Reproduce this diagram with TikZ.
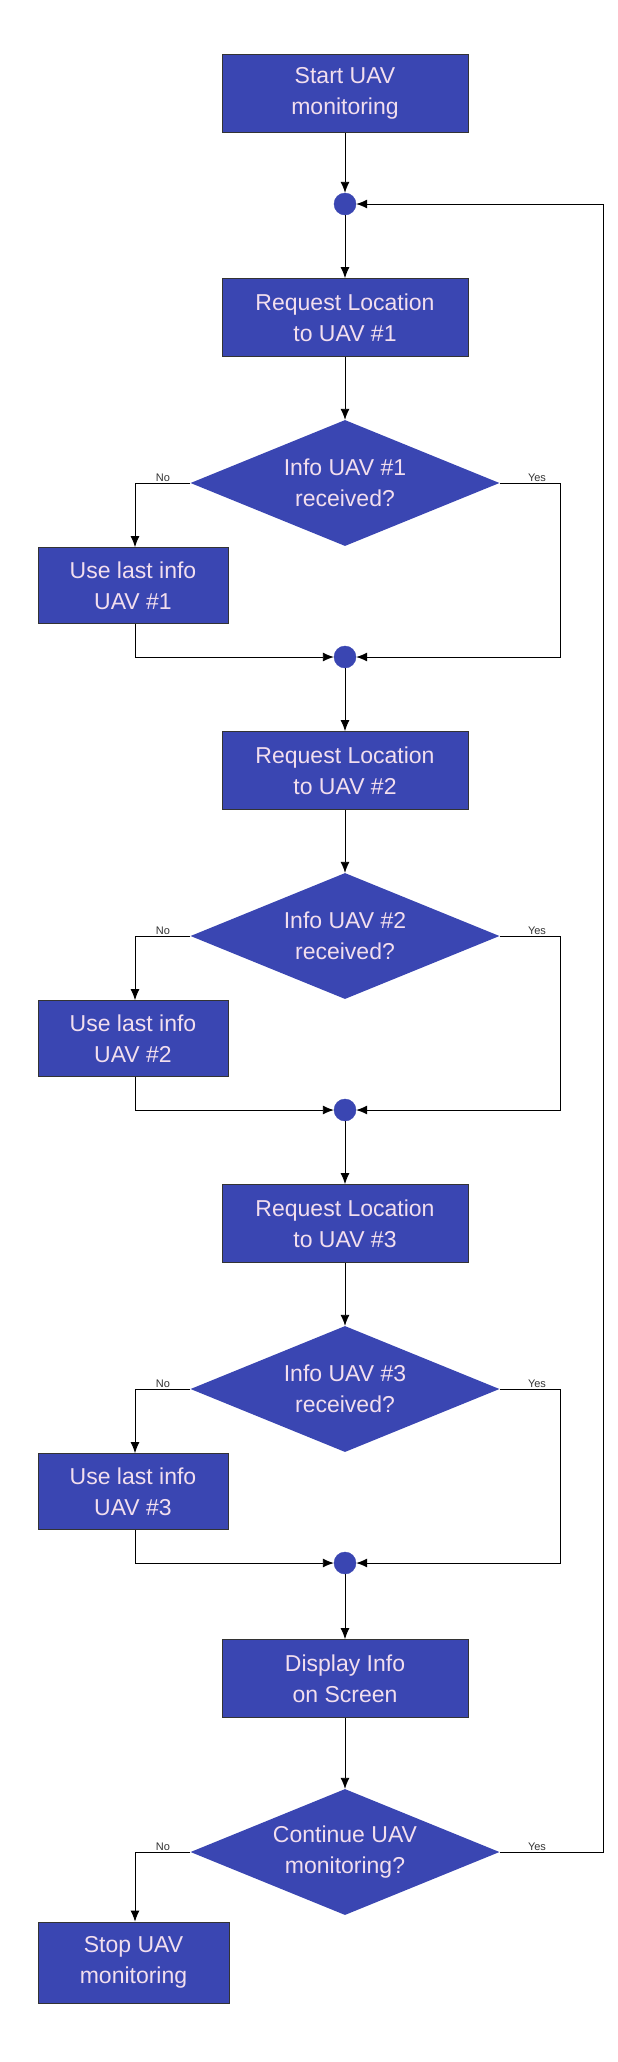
\documentclass[tikz,border=0pt]{standalone}
\usepackage{fontspec}
\setmainfont{Liberation Sans}
\usetikzlibrary{shapes.geometric,arrows.meta}
\definecolor{boxblue}{RGB}{58,70,178}
\definecolor{boxtext}{RGB}{242,222,238}
\begin{document}
\begin{tikzpicture}[x=1pt,y=1pt,
  box/.style={draw=black!80,fill=boxblue,text=boxtext,align=center,font=\fontsize{23}{31}\selectfont,minimum width=246pt,minimum height=78pt,inner sep=0pt,line width=0.8pt},
  sbox/.style={box,minimum width=190pt,minimum height=76pt},
  dec/.style={diamond,fill=boxblue,text=boxtext,align=center,font=\fontsize{23}{31}\selectfont,minimum width=309pt,minimum height=126pt,inner sep=0pt,aspect=2.45},
  dot/.style={circle,fill=boxblue,draw=boxblue,minimum size=22pt,inner sep=0pt},
  arr/.style={-{Latex[length=11pt,width=9pt]},line width=0.9pt},
  lbl/.style={font=\fontsize{11}{12}\selectfont,text=black!80,inner sep=1pt,anchor=south}]
\useasboundingbox (0,0) rectangle (618,-2062);
\node[box] (start) at (345,-93.5) {Start UAV\\monitoring};
\node[dot] (c1) at (345,-204) {};
\draw[arr] (start) -- (c1);
\foreach \i/\n in {1/2,2/3,3/4}{
  \pgfmathsetmacro{\cy}{-204-453*(\i-1)}
  \node[box] (req\i) at (345,\cy-113.5) {Request Location\\to UAV \#\i};
  \node[dec] (d\i) at (345,\cy-279) {Info UAV \#\i\\received?};
  \node[sbox] (use\i) at (133,\cy-381.5) {Use last info\\UAV \#\i};
  \node[dot] (c\n) at (345,\cy-453) {};
  \coordinate (nw\i) at (135,\cy-279);
  \coordinate (ne\i) at (560,\cy-279);
  \coordinate (sw\i) at (135,\cy-453);
  \coordinate (se\i) at (560,\cy-453);
  \draw[arr] (c\i) -- (req\i);
  \draw[arr] (req\i) -- (d\i);
  \draw[arr] (d\i.west) -- (nw\i) -- (nw\i |- use\i.north);
  \draw[arr] (d\i.east) -- (ne\i) -- (se\i) -- (c\n);
  \draw[arr] (use\i.south -| sw\i) -- (sw\i) -- (c\n);
  \node[lbl] at (163,\cy-279) {No};
  \node[lbl] at (537,\cy-279) {Yes};
}
\node[box] (disp) at (345,-1678.5) {Display Info\\on Screen};
\node[dec] (d4) at (345,-1852) {Continue UAV\\monitoring?};
\node[box,minimum width=191pt,minimum height=81pt] (stop) at (133.5,-1962.5) {Stop UAV\\monitoring};
\coordinate (nw4) at (135,-1852);
\coordinate (ne4) at (603,-1852);
\coordinate (top) at (603,-204);
\draw[arr] (c4) -- (disp);
\draw[arr] (disp) -- (d4);
\draw[arr] (d4.west) -- (nw4) -- (nw4 |- stop.north);
\draw[arr] (d4.east) -- (ne4) -- (top) -- (c1);
\node[lbl] at (163,-1852) {No};
\node[lbl] at (537,-1852) {Yes};
\end{tikzpicture}
\end{document}
